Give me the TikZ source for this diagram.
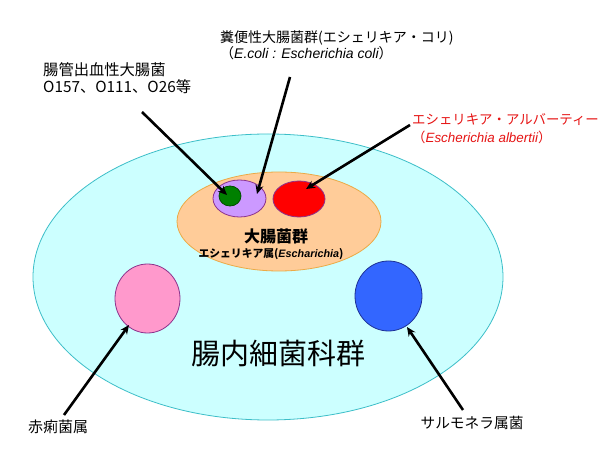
\documentclass[tikz,border=0pt]{standalone}
\usepackage{fontspec}
\setmainfont{Liberation Sans}
\newfontfamily\jp{Noto Sans CJK JP}
\newfontfamily\latit{Liberation Sans}
\usetikzlibrary{shapes.geometric,arrows.meta}
\definecolor{cyanfill}{RGB}{204,255,255}
\definecolor{cyanline}{RGB}{60,190,200}
\definecolor{orfill}{RGB}{255,204,153}
\definecolor{orline}{RGB}{235,170,70}
\definecolor{purfill}{RGB}{204,153,255}
\definecolor{purline}{RGB}{140,50,140}
\definecolor{grfill}{RGB}{0,128,0}
\definecolor{redfill}{RGB}{255,0,0}
\definecolor{pinkfill}{RGB}{255,153,204}
\definecolor{bluefill}{RGB}{51,102,255}
\definecolor{blueline}{RGB}{30,50,150}
\definecolor{redtext}{RGB}{230,20,20}
\tikzset{
  blob/.style={ellipse, draw, line width=0.8pt, inner sep=0pt},
  arr/.style={line width=2.6pt, -{Stealth[length=9pt,width=8pt]}},
  lbl/.style={inner sep=0pt, align=left},
}
\begin{document}
\begin{tikzpicture}[x=1pt,y=-1pt]
\useasboundingbox (0,0) rectangle (603,454);
\fill[white] (0,0) rectangle (603,454);
% ellipses
\node[blob, draw=cyanline, fill=cyanfill, minimum width=470pt, minimum height=286pt] (fam) at (268,277) {};
\node[blob, draw=orline, fill=orfill, minimum width=204pt, minimum height=99pt] (esch) at (279,221.5) {};
\node[blob, draw=purline, fill=purfill, minimum width=53pt, minimum height=37pt] (ecoli) at (239.5,198.5) {};
\node[blob, draw=black!70!green, fill=grfill, minimum width=22pt, minimum height=20pt] (ehec) at (230,196) {};
\node[blob, draw=purline, fill=redfill, minimum width=52pt, minimum height=36pt] (alb) at (299,199) {};
\node[blob, draw=purline, fill=pinkfill, minimum width=65pt, minimum height=69pt] (shig) at (147.5,298.5) {};
\node[blob, draw=blueline, fill=bluefill, minimum width=67pt, minimum height=70pt] (salm) at (388.5,296) {};
% texts
\node[inner sep=0pt, font=\jp\fontsize{29}{32}\selectfont] (famtxt) at (278.5,353.5) {腸内細菌科群};
\node[inner sep=0pt, font=\jp\bfseries\fontsize{16}{18}\selectfont] (eschtxt) at (276,236) {大腸菌群};
\node[inner sep=0pt, font=\jp\bfseries\fontsize{10.8}{12}\selectfont] (eschtxt2) at (271,254) {エシェリキア属(\latit\bfseries\itshape Escharichia\jp)};
\node[lbl, anchor=west, font=\jp\fontsize{15.3}{17}\selectfont] (ehectxt) at (43,78.5) {腸管出血性大腸菌\\O157、O111、O26等};
\node[lbl, anchor=west, font=\jp\fontsize{14}{16}\selectfont] (ecolitxt) at (220,45) {糞便性大腸菌群(エシェリキア・コリ)\\（{\latit\itshape E.coli : Escherichia coli}）};
\node[lbl, anchor=west, text=redtext, font=\jp\fontsize{13.4}{18}\selectfont] (albtxt) at (412,129) {エシェリキア・アルバーティー\\（{\latit\itshape Escherichia albertii}）};
\node[inner sep=0pt, font=\jp\fontsize{15}{17}\selectfont] (shigtxt) at (58,427) {赤痢菌属};
\node[inner sep=0pt, font=\jp\fontsize{14.7}{17}\selectfont] (salmtxt) at (472,423) {サルモネラ属菌};
% arrow ends
\coordinate (s1) at (142,112);
\coordinate (t1) at (227,195);
\coordinate (s2) at (290,77);
\coordinate (t2) at (257,194);
\coordinate (s3) at (410,125);
\coordinate (t3) at (306,189);
\coordinate (s4) at (64,415);
\coordinate (t4) at (129,325);
\coordinate (s5) at (463,410);
\coordinate (t5) at (407,327);
\draw[arr] (s1) -- (t1);
\draw[arr] (s2) -- (t2);
\draw[arr] (s3) -- (t3);
\draw[arr] (s4) -- (t4);
\draw[arr] (s5) -- (t5);
\end{tikzpicture}
\end{document}
